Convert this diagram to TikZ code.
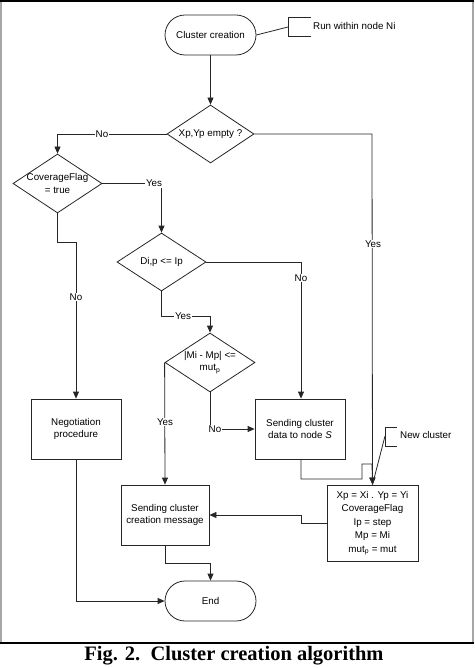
\documentclass[tikz,border=0pt]{standalone}
\usepackage{fontspec}
\setmainfont{Liberation Sans}
\newfontfamily\capfont{Liberation Serif}
\usetikzlibrary{arrows.meta,shapes.geometric}
\begin{document}
\begin{tikzpicture}[x=1pt,y=-1pt,
  every node/.style={font=\fontsize{9.8}{12.5}\selectfont},
  ln/.style={draw=black!85, line width=0.8pt},
  ar/.style={ln, -{Triangle[length=7pt,width=6pt]}},
  term/.style={draw=black!85, line width=0.8pt, rounded corners=20pt, minimum width=91pt, minimum height=40pt, inner sep=0pt},
  boxn/.style={draw=black!85, line width=0.8pt, minimum width=90pt, minimum height=60pt, align=center, inner sep=1pt},
  dia/.style={draw=black!85, line width=0.8pt, diamond, inner sep=0pt, minimum width=89pt, minimum height=59pt},
  lbl/.style={fill=white, inner sep=1pt},
  txt/.style={align=center, inner sep=0pt}
]
\useasboundingbox (0,0) rectangle (474,668);
% frame
\draw[gray!70, line width=2pt] (1,1) -- (1,643);
\draw[gray!70, line width=2pt] (473,1) -- (473,643);
\draw[black, line width=2pt] (0,1) -- (474,1);
\draw[black, line width=2pt] (0,643) -- (474,643);

% nodes
\node[term] (sc) at (210.5,35) {Cluster creation};
\node[dia, minimum width=87pt, minimum height=58pt] (xp) at (210.5,134) {};
\node[txt] at (xp) {Xp,Yp empty ?};
\node[dia] (cf) at (57.5,183.5) {};
\node[txt, text depth=0pt] at (cf) {CoverageFlag\\= true};
\node[dia, minimum height=58pt] (dip) at (161.5,262) {};
\node[txt] at (dip) {Di,p {<=} Ip};
\node[dia, minimum width=90pt] (mi) at (210,362.5) {};
\node[txt] at (mi) {|Mi - Mp| {<=}\\mut\textsubscript{p}};
\node[boxn] (neg) at (76,429) {Negotiation\\procedure};
\node[boxn] (sd) at (300,429) {Sending cluster\\data to node \textit{S}};
\node[boxn, minimum width=88pt] (scm) at (165,515) {Sending cluster\\creation message};
\node[boxn, minimum width=91pt, minimum height=76pt, font=\fontsize{9.8}{13.5}\selectfont] (fb) at (372.5,523) {Xp = Xi . Yp = Yi\\CoverageFlag\\Ip = step\\Mp = Mi\\mut\textsubscript{p} = mut};
\node[term] (en) at (210.5,601) {End};

% annotations
\coordinate (b1) at (288,27);
\draw[ln] (sc.east) -- (b1);
\draw[ln] (311,17) -- (288,17) -- (288,36) -- (311,36);
\node[anchor=west, inner sep=0pt] (rn) at (313,26) {Run within node Ni};
\coordinate (b2) at (385,436);
\draw[ln] (fb.north) -- (b2);
\draw[ln] (397,427) -- (385,427) -- (385,446) -- (397,446);
\node[anchor=west, inner sep=0pt] (nc) at (400,435) {New cluster};

% connectors
\draw[ar] (sc.south) -- (xp.north);
\draw[ar] (xp.west) -- (57.5,134) -- (cf.north);
\node[lbl] at (102,134) {No};
\draw[ar] (xp.east) -- (372,134) -- (fb.north);
\node[lbl] at (373,244) {Yes};
\draw[ar] (cf.east) -- (161.5,183.5) -- (dip.north);
\node[lbl] at (154,183.5) {Yes};
\draw[ar] (cf.south) -- (57.5,242) -- (76,242) -- (neg.north);
\node[lbl] at (76,297) {No};
\draw[ar] (dip.east) -- (301,262) -- (sd.north -| 301,0);
\node[lbl] at (301,278) {No};
\draw[ar] (dip.south) -- (161.5,316) -- (210,316) -- (mi.north);
\node[lbl] at (183,316) {Yes};
\draw[ar] (mi.west) -- (scm.north);
\node[lbl] at (165,422) {Yes};
\draw[ar] (mi.south) -- (210,429) -- (sd.west);
\node[lbl] at (215,429) {No};
\draw[ar] (sd.south -| 301,0) -- (301,479) -- (362,479) -- (362,464) -- (372,464) -- (fb.north);
\draw[ar] (fb.west) -- (301,523) -- (301,515) -- (scm.east);
\draw[ar] (scm.south) -- (165,563) -- (210.5,563) -- (en.north);
\draw[ar] (neg.south) -- (76,601) -- (en.west);

% caption
\node[font=\capfont\bfseries\fontsize{20.5}{24}\selectfont, inner sep=0pt] (cap) at (234,656) {Fig. 2.\ \ Cluster creation algorithm};
\end{tikzpicture}
\end{document}
